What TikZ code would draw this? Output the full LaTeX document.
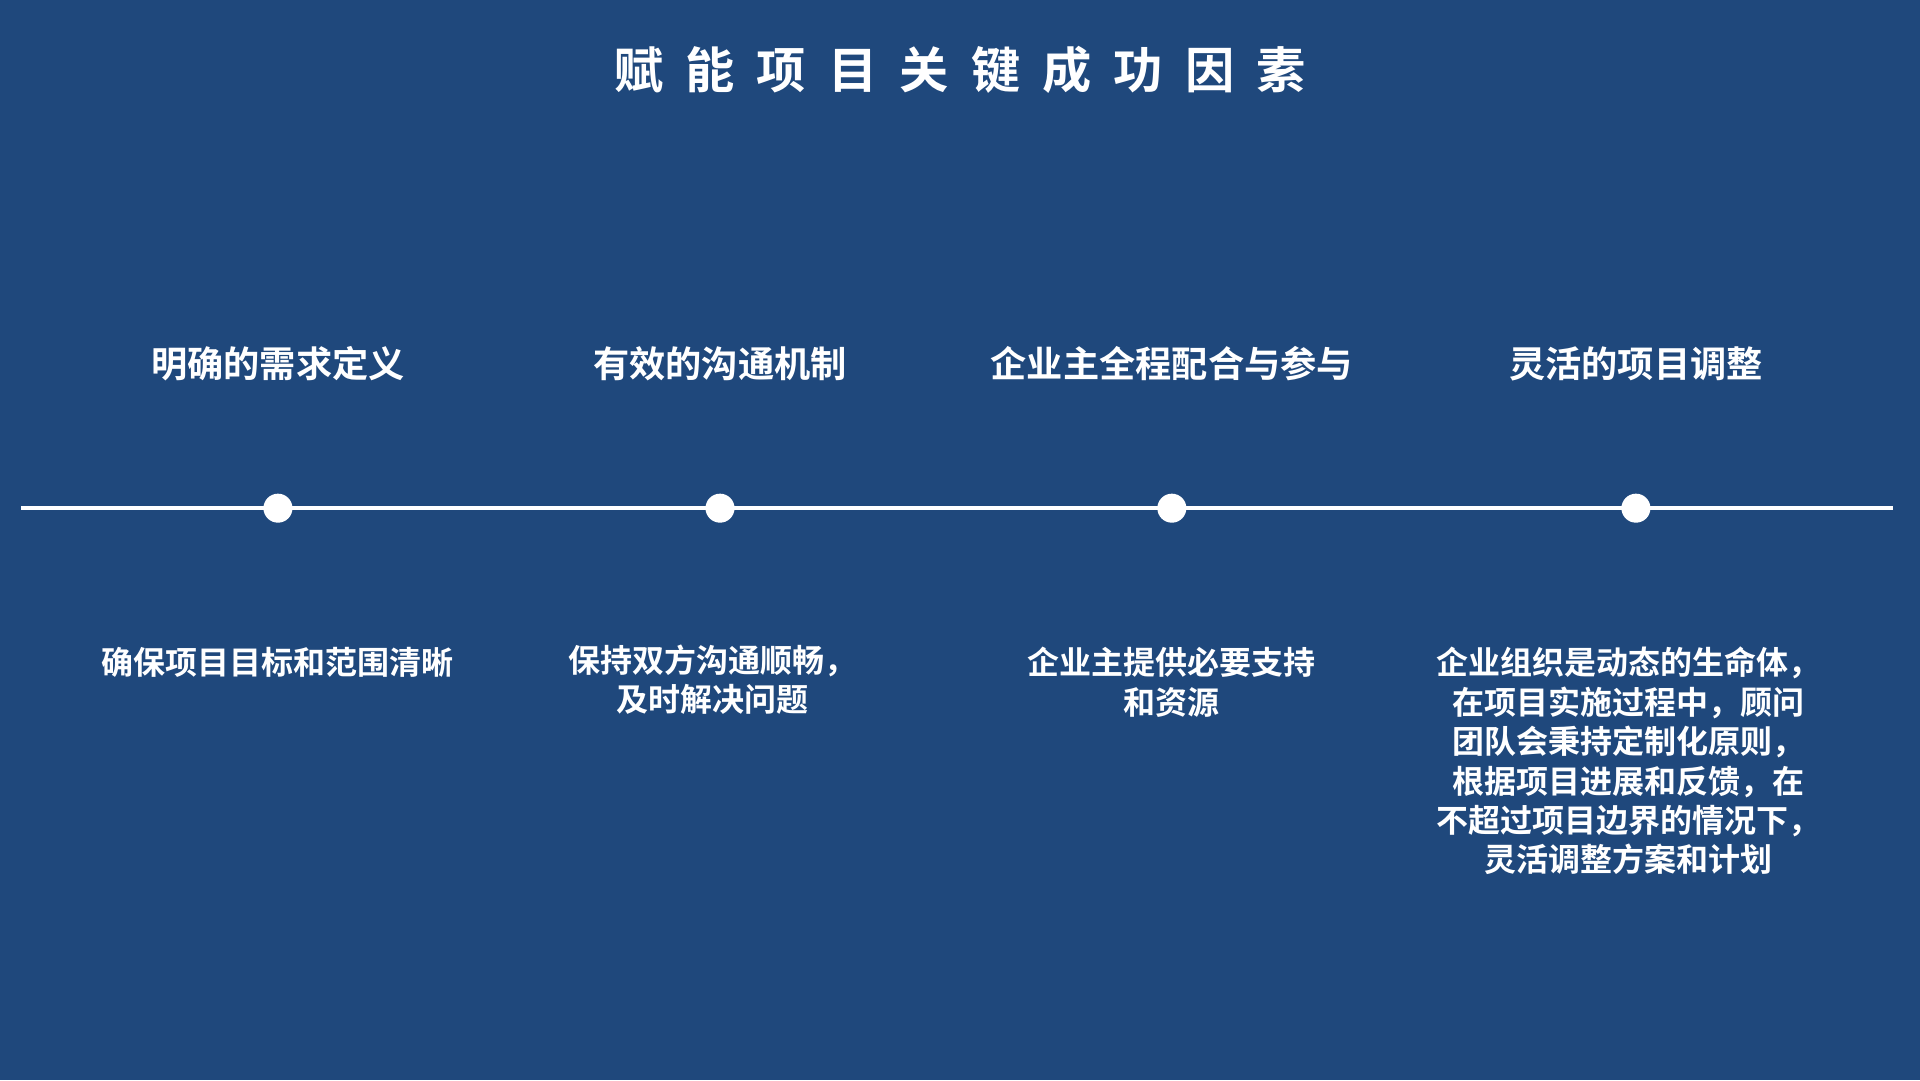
\documentclass[tikz,border=0pt]{standalone}
\usepackage{fontspec}
\newfontfamily\cjk{Noto Sans CJK SC}[BoldFont={* Bold}]
\begin{document}
\begin{tikzpicture}[x=0.012245cm,y=-0.012245cm,
  txt/.style={text=white,font=\cjk\bfseries,align=center,inner sep=0pt},
  head/.style={txt,font=\cjk\bfseries\fontsize{10.3pt}{12pt}\selectfont},
  body/.style={txt,font=\cjk\bfseries\fontsize{9.1pt}{11.2pt}\selectfont},
  dot/.style={circle,fill=white,minimum size=0.29cm,inner sep=0pt}]
\fill[fill={rgb,255:red,31;green,72;blue,124}] (0,0) rectangle (1568,882);
\useasboundingbox (0,0) rectangle (1568,882);
\node[txt,font=\cjk\bfseries\fontsize{14pt}{16pt}\selectfont] (title) at (784,57) {赋\hspace{0.45em}能\hspace{0.45em}项\hspace{0.45em}目\hspace{0.45em}关\hspace{0.45em}键\hspace{0.45em}成\hspace{0.45em}功\hspace{0.45em}因\hspace{0.45em}素};
\coordinate (l) at (17,415); \coordinate (r) at (1546,415);
\draw[white,line width=1.2pt] (l) -- (r);
\foreach \n/\x in {a/227,b/588,c/957,d/1336} \node[dot] (\n) at (\x,415) {};
\node[head] (ha) at (227,297) {明确的需求定义};
\node[head] (hb) at (588,297) {有效的沟通机制};
\node[head] (hc) at (957,297) {企业主全程配合与参与};
\node[head] (hd) at (1336,297) {灵活的项目调整};
\node[body,anchor=north] (ba) at (227,528) {确保项目目标和范围清晰};
\node[body,anchor=north] (bb) at (582,526) {保持双方沟通顺畅，\\及时解决问题};
\node[body,anchor=north] (bc) at (957,528) {企业主提供必要支持\\和资源};
\node[body,anchor=north] (bd) at (1330,528) {企业组织是动态的生命体，\\在项目实施过程中，顾问\\团队会秉持定制化原则，\\根据项目进展和反馈，在\\不超过项目边界的情况下，\\灵活调整方案和计划};
\end{tikzpicture}
\end{document}
